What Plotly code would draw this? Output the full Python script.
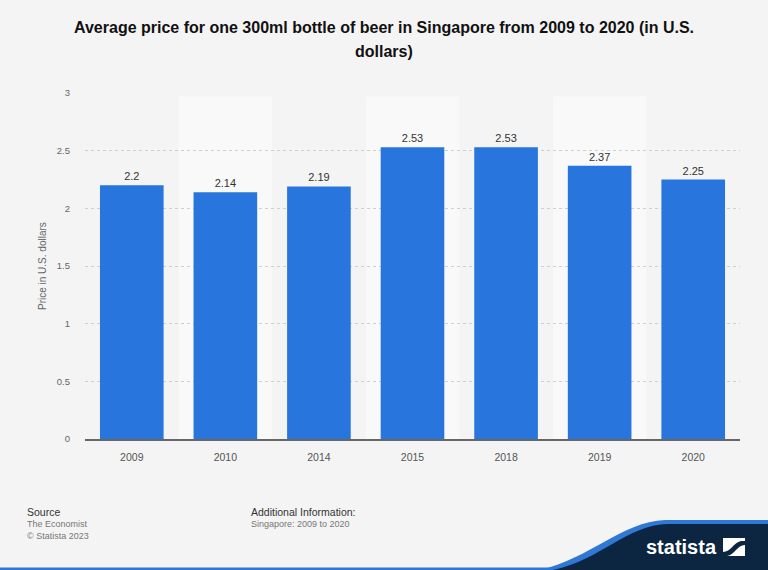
import plotly.graph_objects as go

categories = ["2009", "2010", "2014", "2015", "2018", "2019", "2020"]
prices = [2.2, 2.14, 2.19, 2.53, 2.53, 2.37, 2.25]
value_labels = ["2.2", "2.14", "2.19", "2.53", "2.53", "2.37", "2.25"]
y_ticks = [0, 0.5, 1, 1.5, 2, 2.5, 3]
y_tick_labels = ["0", "0.5", "1", "1.5", "2", "2.5", "3"]

W, H = 768, 570
L, R, T, B = 85, 740, 93, 439
FONT = "Liberation Sans, Arial, sans-serif"


def px(x):
    return (x - L) / (R - L)


def py(y):
    return (B - y) / (B - T)


fig = go.Figure()
fig.add_trace(go.Bar(
    x=categories, y=prices, text=value_labels, textposition="outside",
    textfont=dict(size=11, color="#333333", family=FONT),
    marker=dict(color="#2876dd", line=dict(width=0)),
    width=0.68, cliponaxis=False, hoverinfo="x+y",
))

shapes = []
# alternating column bands
for i in [1, 3, 5]:
    shapes.append(dict(type="rect", xref="x", yref="paper", x0=i - 0.5, x1=i + 0.5,
                       y0=0, y1=0.99, fillcolor="#f9f9f9", line=dict(width=0), layer="below"))

# footer bottom line
shapes.append(dict(type="rect", xref="paper", yref="paper", x0=px(0), x1=px(W),
                   y0=py(570), y1=py(567.5), fillcolor="#2f78d6", line=dict(width=0)))


def pth(points_cmds):
    out = []
    for cmd, pts in points_cmds:
        s = cmd
        if pts:
            s += " ".join(f"{px(a):.5f},{py(b):.5f}" for a, b in pts)
        out.append(s)
    return " ".join(out)


blue_path = pth([
    ("M", [(535, 571)]),
    ("C", [(590, 560), (620, 522), (665, 520)]),
    ("L", [(769, 520)]),
    ("L", [(769, 571)]),
    ("Z", []),
])
navy_path = pth([
    ("M", [(548, 571)]),
    ("C", [(600, 562), (625, 525), (668, 524)]),
    ("L", [(769, 524)]),
    ("L", [(769, 571)]),
    ("Z", []),
])
shapes.append(dict(type="path", xref="paper", yref="paper", path=blue_path,
                   fillcolor="#2f78d6", line=dict(width=0)))
shapes.append(dict(type="path", xref="paper", yref="paper", path=navy_path,
                   fillcolor="#0c2541", line=dict(width=0)))
# logo icon
shapes.append(dict(type="rect", xref="paper", yref="paper", x0=px(723), x1=px(745),
                   y0=py(556), y1=py(538), fillcolor="#ffffff", line=dict(width=0)))
icon_path = pth([
    ("M", [(723, 552)]),
    ("C", [(731, 552), (733, 543), (741, 541)]),
    ("L", [(745, 541)]),
    ("L", [(745, 545)]),
    ("C", [(737, 545), (735, 555), (727, 556)]),
    ("L", [(723, 556)]),
    ("Z", []),
])
shapes.append(dict(type="path", xref="paper", yref="paper", path=icon_path,
                   fillcolor="#0c2541", line=dict(width=0)))

annotations = [
    dict(text="<b>Average price for one 300ml bottle of beer in Singapore from 2009 to 2020 (in U.S.</b>",
         x=px(384), y=py(27), xref="paper", yref="paper", showarrow=False,
         xanchor="center", yanchor="middle", font=dict(size=16, color="#111111", family=FONT)),
    dict(text="<b>dollars)</b>",
         x=px(384), y=py(52), xref="paper", yref="paper", showarrow=False,
         xanchor="center", yanchor="middle", font=dict(size=16, color="#111111", family=FONT)),
    dict(text="Price in U.S. dollars", x=px(42), y=py(266), xref="paper", yref="paper",
         showarrow=False, textangle=-90, xanchor="center", yanchor="middle",
         font=dict(size=10, color="#666666", family=FONT)),
    dict(text="Source", x=px(25), y=py(512), xref="paper", yref="paper", showarrow=False,
         xanchor="left", yanchor="middle", font=dict(size=10.5, color="#333333", family=FONT)),
    dict(text="The Economist", x=px(25), y=py(524), xref="paper", yref="paper", showarrow=False,
         xanchor="left", yanchor="middle", font=dict(size=9, color="#777777", family=FONT)),
    dict(text="© Statista 2023", x=px(25), y=py(536), xref="paper", yref="paper", showarrow=False,
         xanchor="left", yanchor="middle", font=dict(size=9, color="#777777", family=FONT)),
    dict(text="Additional Information:", x=px(249), y=py(512), xref="paper", yref="paper",
         showarrow=False, xanchor="left", yanchor="middle",
         font=dict(size=10.5, color="#333333", family=FONT)),
    dict(text="Singapore: 2009 to 2020", x=px(249), y=py(524), xref="paper", yref="paper",
         showarrow=False, xanchor="left", yanchor="middle",
         font=dict(size=9, color="#777777", family=FONT)),
    dict(text="<b>statista</b>", x=px(719), y=py(547), xref="paper", yref="paper",
         showarrow=False, xanchor="right", yanchor="middle",
         font=dict(size=20, color="#ffffff", family=FONT)),
]

fig.update_layout(
    width=W, height=H,
    margin=dict(l=L, r=W - R, t=T, b=H - B, pad=0),
    paper_bgcolor="#f4f4f4", plot_bgcolor="#f4f4f4",
    showlegend=False, bargap=0.32,
    shapes=shapes, annotations=annotations,
    font=dict(family=FONT),
)
fig.update_xaxes(
    type="category", categoryorder="array", categoryarray=categories,
    showgrid=False, showline=True, linecolor="#666666", linewidth=1.5,
    ticks="", tickfont=dict(size=10.5, color="#555555"), ticklabelstandoff=8,
)
fig.update_yaxes(
    range=[0, 3], tickvals=y_ticks, ticktext=y_tick_labels,
    showgrid=True, gridcolor="#cfcfcf", griddash="dot", gridwidth=1,
    zeroline=False, showline=False, ticks="",
    tickfont=dict(size=9.5, color="#666666"), ticklabelstandoff=14,
)

fig.write_html("out.html")
